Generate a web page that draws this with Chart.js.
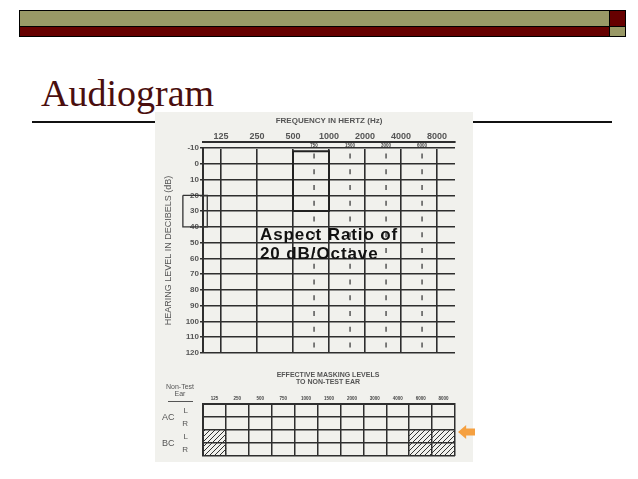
<!DOCTYPE html>
<html>
<head>
  <meta charset="utf-8">
  <title>Audiogram</title>
  <script src="https://cdn.jsdelivr.net/npm/chart.js@4.4.0/dist/chart.umd.min.js"></script>
  <style>
    body { margin: 0; background: #fff; width: 638px; height: 479px; position: relative; overflow: hidden; font-family: "Liberation Sans", sans-serif; }
    .abs { position: absolute; }
    .bar { border: 1px solid #000; box-sizing: border-box; }
    .olive { background: #999966; }
    .maroon { background: #660000; }
    #scan { left: 155px; top: 112px; width: 318px; height: 350px; background: #f1f1ed; }
    .lbl { color: #555; font-weight: bold; white-space: nowrap; }
  </style>
</head>
<body>

  <!-- slide decoration -->
  <div class="abs bar olive" style="left:19px; top:10px; width:591px; height:17px;"></div>
  <div class="abs bar maroon" style="left:19px; top:26px; width:591px; height:11px;"></div>
  <div class="abs bar maroon" style="left:609px; top:10px; width:17px; height:17px;"></div>
  <div class="abs bar olive" style="left:609px; top:26px; width:17px; height:11px;"></div>

  <div class="abs" style="left:41px; top:74px; font-family:'Liberation Serif', serif; font-size:38px; line-height:38px; color:#4a0e0e;">Audiogram</div>
  <div class="abs" style="left:32px; top:121px; width:580px; height:2px; background:#111;"></div>

  <div id="scan" class="abs"></div>

  <canvas id="audioCanvas" class="abs" style="left:155px; top:112px;" width="318" height="253"></canvas>
  <canvas id="maskCanvas" class="abs" style="left:155px; top:365px;" width="318" height="97"></canvas>

  <div class="abs" style="left:260px; top:225px; font-weight:bold; font-size:17px; line-height:19px; letter-spacing:0.9px; color:#111;">Aspect Ratio of<br>20 dB/Octave</div>

  <div class="abs lbl" style="left:263px; top:371px; width:130px; text-align:center; font-size:7px; line-height:7px;">EFFECTIVE MASKING LEVELS<br>TO NON-TEST EAR</div>
  <div class="abs lbl" style="left:160px; top:383px; width:40px; text-align:center; font-size:7px; line-height:7px; font-weight:normal;">Non-Test<br>Ear</div>
  <div class="abs" style="left:168px; top:401px; width:25px; height:1px; background:#555;"></div>
  <div class="abs lbl" style="left:162px; top:412px; font-size:9px; font-weight:normal;">AC</div>
  <div class="abs lbl" style="left:162px; top:438px; font-size:9px; font-weight:normal;">BC</div>

  <div class="abs" style="left:458px; top:425px; width:17px; height:14px; background:#f5a040; clip-path:polygon(0 50%, 48% 0, 48% 25%, 100% 25%, 100% 75%, 48% 75%, 48% 100%);"></div>

  <script>
    // audiogram axes
    const freqs = [125, 250, 500, 1000, 2000, 4000, 8000];
    const midFreqs = [750, 1500, 3000, 6000];
    const minLevel = -10;
    const maxLevel = 120;
    const rowCenters = [-5, 5, 15, 25, 35, 45, 55, 65, 75, 85, 95, 105, 115];

    // bold box around 500-1000 Hz, -10..30 dB
    const boxFreqs = [500, 1000];
    const boxLevels = [-8, 30];
    // small box around the 20-40 dB labels
    const markFreqs = [60, 96];
    const markLevels = [20, 40];

    // masking table
    const maskFreqs = ['125', '250', '500', '750', '1000', '1500', '2000', '3000', '4000', '6000', '8000'];
    const maskRows = ['L', 'R', 'L', 'R'];
    const hatched = [true, false, false, false, false, false, false, false, false, true, true];

    const gridColor = '#2e2e2e';
    const tickColor = '#555';

    function rectPoints(xs, ys) {
      return [
        {x: xs[0], y: ys[0]}, {x: xs[1], y: ys[0]},
        {x: xs[1], y: ys[1]}, {x: xs[0], y: ys[1]},
        {x: xs[0], y: ys[0]}
      ];
    }

    let dashPoints = [];
    midFreqs.forEach(f => rowCenters.forEach(l => dashPoints.push({x: f, y: l})));

    let xMin = freqs[0] / Math.SQRT2;
    let xMax = freqs[freqs.length - 1] * Math.SQRT2;

    new Chart(document.getElementById('audioCanvas'), {
      type: 'scatter',
      data: {
        datasets: [
          {
            data: dashPoints,
            pointStyle: 'line',
            rotation: 90,
            radius: 2.5,
            borderColor: '#555',
            borderWidth: 1.5,
            xAxisID: 'x', yAxisID: 'y'
          },
          {
            data: rectPoints(boxFreqs, boxLevels),
            showLine: true,
            borderColor: '#222',
            borderWidth: 2,
            pointRadius: 0,
            xAxisID: 'x', yAxisID: 'y'
          },
          {
            data: rectPoints(markFreqs, markLevels),
            showLine: true,
            clip: false,
            borderColor: '#333',
            borderWidth: 1.3,
            pointRadius: 0,
            xAxisID: 'x', yAxisID: 'y'
          }
        ]
      },
      options: {
        responsive: false,
        animation: false,
        layout: { padding: { left: 0, right: 18, top: 0, bottom: 12 } },
        plugins: { legend: { display: false }, tooltip: { enabled: false } },
        scales: {
          x: {
            type: 'logarithmic',
            position: 'top',
            weight: 1,
            min: xMin, max: xMax,
            afterBuildTicks: s => { s.ticks = freqs.map(v => ({value: v})); },
            afterFit: s => { s.height = 30; },
            grid: { color: gridColor, lineWidth: 1.6, drawTicks: false },
            border: { color: gridColor, width: 2 },
            ticks: { color: tickColor, padding: 0, font: { family: 'Liberation Sans', size: 9, weight: 'bold' }, callback: v => String(v), maxRotation: 0 },
            title: { display: true, text: 'FREQUENCY IN HERTZ (Hz)', color: tickColor, padding: { top: 4, bottom: 0 }, font: { family: 'Liberation Sans', size: 8, weight: 'bold' } }
          },
          x2: {
            type: 'logarithmic',
            position: 'top',
            weight: 0,
            min: xMin, max: xMax,
            afterBuildTicks: s => { s.ticks = midFreqs.map(v => ({value: v})); },
            afterFit: s => { s.height = 6; },
            grid: { display: false, drawTicks: false },
            border: { display: false },
            ticks: { color: '#444', padding: 0, font: { family: 'Liberation Sans', size: 4.5, weight: 'bold' }, callback: v => String(v), maxRotation: 0 }
          },
          y: {
            type: 'linear',
            reverse: true,
            min: minLevel, max: maxLevel,
            afterFit: s => { s.width = 48; },
            grid: { color: gridColor, lineWidth: 1.6, tickLength: 3 },
            border: { color: gridColor, width: 2 },
            ticks: { stepSize: 10, color: tickColor, padding: 1, font: { family: 'Liberation Sans', size: 8, weight: 'bold' } },
            title: { display: true, text: 'HEARING LEVEL IN DECIBELS (dB)', color: tickColor, padding: { top: 8, bottom: 0 }, font: { family: 'Liberation Sans', size: 9 } }
          }
        }
      }
    });

    // hatch pattern for masked-out cells
    function hatchPattern() {
      let c = document.createElement('canvas');
      c.width = 5; c.height = 5;
      let ctx = c.getContext('2d');
      ctx.strokeStyle = '#333';
      ctx.lineWidth = 1;
      ctx.beginPath();
      ctx.moveTo(0, 5); ctx.lineTo(5, 0);
      ctx.moveTo(-1, 1); ctx.lineTo(1, -1);
      ctx.moveTo(4, 6); ctx.lineTo(6, 4);
      ctx.stroke();
      return c.getContext('2d').createPattern(c, 'repeat');
    }

    new Chart(document.getElementById('maskCanvas'), {
      type: 'bar',
      data: {
        labels: maskFreqs,
        datasets: [{
          data: hatched.map(h => h ? [2, 4] : null),
          backgroundColor: hatchPattern(),
          borderWidth: 0,
          barPercentage: 1,
          categoryPercentage: 1,
          xAxisID: 'x', yAxisID: 'y'
        }]
      },
      options: {
        responsive: false,
        animation: false,
        layout: { padding: { left: 0, right: 18, top: 0, bottom: 6 } },
        plugins: { legend: { display: false }, tooltip: { enabled: false } },
        scales: {
          x: {
            position: 'top',
            offset: true,
            afterFit: s => { s.height = 39; s.paddingLeft = 0; s.paddingRight = 0; },
            grid: { offset: true, color: gridColor, lineWidth: 1.5, drawTicks: false },
            border: { color: gridColor, width: 2 },
            ticks: { color: '#444', padding: 3, maxRotation: 0, autoSkip: false, font: { family: 'Liberation Sans', size: 4.5, weight: 'bold' } }
          },
          y: {
            type: 'linear',
            reverse: true,
            min: 0, max: maskRows.length,
            weight: 0,
            afterFit: s => { s.width = 0; s.paddingTop = 0; s.paddingBottom = 0; },
            grid: { color: gridColor, lineWidth: 1.5, drawTicks: false },
            border: { color: gridColor, width: 2 },
            ticks: { display: false, stepSize: 1 }
          },
          y2: {
            type: 'category',
            labels: maskRows,
            position: 'left',
            weight: 1,
            offset: true,
            afterFit: s => { s.width = 48; s.paddingTop = 0; s.paddingBottom = 0; },
            grid: { display: false, drawTicks: false },
            border: { display: false },
            ticks: { color: tickColor, padding: 15, autoSkip: false, font: { family: 'Liberation Sans', size: 8 } }
          }
        }
      }
    });
  </script>
</body>
</html>
